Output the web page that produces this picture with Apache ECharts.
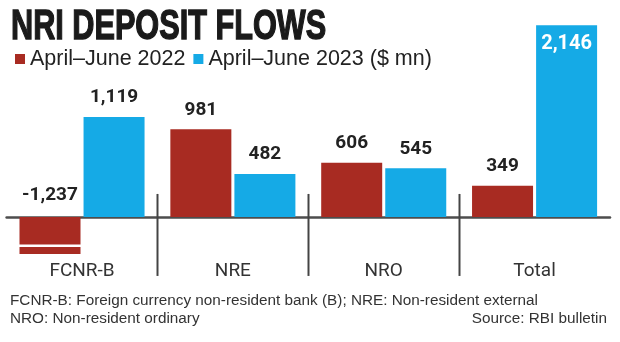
<!DOCTYPE html>
<html>
<head>
<meta charset="utf-8">
<script src="https://cdn.jsdelivr.net/npm/echarts/dist/echarts.min.js"></script>
<style>
html,body{margin:0;padding:0;background:#fff;}
#chart{width:620px;height:342px;}
</style>
</head>
<body>
<div id="chart"></div>
<script>
const categories = ['FCNR-B', 'NRE', 'NRO', 'Total'];
const flows2022 = [-1237, 981, 606, 349];
const flows2023 = [1119, 482, 545, 2146];
const seriesNames = ['April–June 2022', 'April–June 2023'];
const unitNote = ' ($ mn)';
const separatorsBefore = ['NRE', 'NRO', 'Total'];
const yMin = -415, yMax = 2172;

const COND = "Roboto, 'DejaVu Sans Condensed', sans-serif";
const REG = "'Liberation Sans', Arial, sans-serif";
const RED = '#A82B22', BLUE = '#15AAE6';

const fmt = v => (v < 0 ? '-' : '') + Math.abs(v).toLocaleString('en-US');
const maxAll = Math.max(...flows2022, ...flows2023);

function barData(arr) {
  return arr.map(v => {
    if (v === maxAll) return {value: v, label: {position: 'insideTop', color: '#fff', distance: 8.5, fontSize: 20}};
    if (v < 0) return {value: v, label: {position: 'top', distance: 12.5}};
    return v;
  });
}

const breakItems = categories.map((c, i) => flows2022[i] < yMin ? [c, flows2022[i]] : null).filter(Boolean);

const chart = echarts.init(document.getElementById('chart'), null, {renderer: 'canvas'});
chart.setOption({
  animation: false,
  backgroundColor: '#fff',
  graphic: [
    {type: 'text', x: 11, y: 6, scaleX: 0.73, z: 10,
     style: {text: 'NRI DEPOSIT FLOWS', font: "bold 42px 'Liberation Sans', Arial, sans-serif",
             fill: '#1a1a1a', stroke: '#1a1a1a', lineWidth: 1.4, verticalAlign: 'top', align: 'left'}}
  ],
  title: [
    {text: 'FCNR-B: Foreign currency non-resident bank (B); NRE: Non-resident external', left: 5, top: 288,
     textStyle: {fontFamily: REG, fontSize: 15.3, fontWeight: 'normal', color: '#333'}},
    {text: 'NRO: Non-resident ordinary', left: 5, top: 306,
     textStyle: {fontFamily: REG, fontSize: 15.3, fontWeight: 'normal', color: '#333'}},
    {text: 'Source: RBI bulletin', right: 8, top: 306,
     textStyle: {fontFamily: REG, fontSize: 15.3, fontWeight: 'normal', color: '#333'}}
  ],
  legend: {
    data: seriesNames,
    left: 10, top: 43,
    icon: 'rect', itemWidth: 10, itemHeight: 10, itemGap: 8,
    formatter: n => n === seriesNames[1] ? n + unitNote : n,
    textStyle: {fontFamily: REG, fontSize: 21.5, color: '#222'}
  },
  grid: {left: 6.6, right: 10, top: 23, bottom: 88},
  xAxis: {
    type: 'category', data: categories,
    axisLine: {onZero: true, lineStyle: {color: '#4d4d4d', width: 2.5}},
    axisTick: {show: false},
    axisLabel: {margin: 8, fontFamily: COND, fontSize: 19, color: '#333'},
    splitLine: {show: false}
  },
  yAxis: {type: 'value', min: yMin, max: yMax, show: false, splitLine: {show: false}},
  series: [
    {name: seriesNames[0], type: 'bar', data: barData(flows2022), barWidth: 61, barGap: '5%',
     itemStyle: {color: RED}, clip: true,
     label: {show: true, position: 'top', distance: 10, formatter: p => fmt(p.value),
             fontFamily: COND, fontSize: 19, fontWeight: 'bold', color: '#222'}},
    {name: seriesNames[1], type: 'bar', data: barData(flows2023), barWidth: 61,
     itemStyle: {color: BLUE}, clip: true,
     label: {show: true, position: 'top', distance: 10, formatter: p => fmt(p.value),
             fontFamily: COND, fontSize: 19, fontWeight: 'bold', color: '#222'}},
    {type: 'custom', silent: true, z: 1, clip: false,
     data: separatorsBefore.map(c => [c, 0]),
     renderItem: (params, api) => {
       const p = api.coord([api.value(0), 0]);
       const band = api.size([1, 0])[0];
       const x = Math.round(p[0] - band / 2) + 0.5;
       return {type: 'line', shape: {x1: x, y1: p[1] - 23, x2: x, y2: p[1] + 59},
               style: {stroke: '#444', lineWidth: 2}};
     }},
    {type: 'custom', silent: true, z: 5, clip: false,
     data: breakItems,
     renderItem: (params, api) => {
       const p = api.coord([api.value(0), 0]);
       const band = api.size([1, 0])[0];
       const cs = params.coordSys;
       const bottom = cs.y + cs.height;
       return {type: 'rect', shape: {x: p[0] - band / 2 + 4, y: bottom - 9.5, width: band / 2 - 4, height: 2.5},
               style: {fill: '#fff'}};
     }}
  ]
});
</script>
</body>
</html>
